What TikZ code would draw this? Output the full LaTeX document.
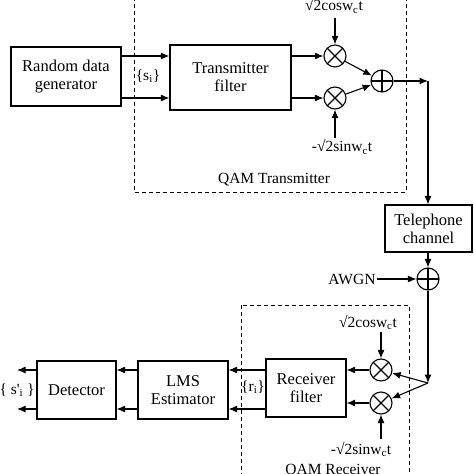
\documentclass[tikz,border=0pt]{standalone}
\usepackage{fontspec}
\setmainfont{Liberation Serif}
\usetikzlibrary{arrows.meta}
\begin{document}
\begin{tikzpicture}[x=1pt,y=-1pt,line width=1.1pt,
  font=\fontsize{15.5}{17}\selectfont,
  >={Latex[length=8.5pt,width=7pt]},
  blk/.style={draw,rectangle,align=center,inner sep=0pt,font=\fontsize{16.5}{18}\selectfont},
  mix/.style={circle,draw,minimum size=22pt,inner sep=0pt,
    path picture={\draw (path picture bounding box.north west)--(path picture bounding box.south east)
      (path picture bounding box.north east)--(path picture bounding box.south west);}},
  summ/.style={circle,draw,minimum size=22pt,inner sep=0pt,
    path picture={\draw (path picture bounding box.north)--(path picture bounding box.south)
      (path picture bounding box.west)--(path picture bounding box.east);}},
  frame/.style={draw,dashed,dash pattern=on 4pt off 3pt,line width=0.9pt},
  lbl/.style={inner sep=1pt}]
\useasboundingbox (0,0) rectangle (474,474);
\clip (0,0) rectangle (474,474);
% dashed frames
\draw[frame] (134,-10) rectangle (406,192);
\draw[frame] (241,305) rectangle (409,490);
% transmitter
\node[blk,minimum width=110pt,minimum height=59pt] (gen) at (66,76.5) {Random data\\generator};
\node[blk,minimum width=121pt,minimum height=65pt] (tf) at (230.5,77.5) {Transmitter\\filter};
\node[mix] (m1) at (335,56) {};
\node[mix] (m2) at (335,98) {};
\node[summ] (s1) at (382,81) {};
\node[lbl] (c1) at (334,6) {√2cosw\textsubscript{c}t};
\node[lbl] (sn1) at (342,147) {-√2sinw\textsubscript{c}t};
\node[lbl] (qt) at (274,180) {QAM Transmitter};
\node[lbl] (si) at (148,76) {\{s\textsubscript{i}\}};
\coordinate (corner) at (428,81);
\draw[->] (gen.east |- m1) -- (tf.west |- m1);
\draw[->] (gen.east |- m2) -- (tf.west |- m2);
\draw[->] (tf.east |- m1) -- (m1);
\draw[->] (tf.east |- m2) -- (m2);
\draw[->] (m1 |- 0,18) -- (m1);
\draw[->] (m2 |- sn1.north) -- (m2);
\draw[->] (m1) -- (s1);
\draw[->] (m2) -- (s1);
\draw[->] (s1) -- (corner);
% channel
\node[blk,minimum width=87pt,minimum height=47pt] (tel) at (428.5,228.5) {Telephone\\channel};
\draw[->] (corner) -- (tel.north -| corner);
\node[summ] (s2) at (428,279) {};
\node[lbl,anchor=east] (awgn) at (377,279) {AWGN};
\draw[->] (awgn) -- (s2);
\draw[->] (tel.south -| s2) -- (s2);
\coordinate (br) at (428,383);
\draw[->] (s2) -- (br);
% receiver
\node[mix] (rm1) at (381,370) {};
\node[mix] (rm2) at (381,403) {};
\node[lbl] (c2) at (368,322) {√2cosw\textsubscript{c}t};
\node[lbl] (sn2) at (361,449) {-√2sinw\textsubscript{c}t};
\node[lbl] (qr) at (333,471) {QAM Receiver};
\draw[->] (br) -- (rm1);
\draw[->] (br) -- (rm2);
\draw[->] (rm1 |- 0,332) -- (rm1);
\draw[->] (rm2 |- 0,439) -- (rm2);
\node[blk,minimum width=80pt,minimum height=58pt] (rf) at (306,388) {Receiver\\filter};
\node[lbl] (ri) at (253,387) {\{r\textsubscript{i}\}};
\draw[->] (rm1) -- (rf.east |- rm1);
\draw[->] (rm2) -- (rf.east |- rm2);
\coordinate (ya) at (0,370);
\coordinate (yb) at (0,409);
\node[blk,minimum width=90pt,minimum height=58pt] (lms) at (183,390) {LMS\\Estimator};
\node[blk,minimum width=79pt,minimum height=58pt] (det) at (76.5,390) {Detector};
\draw[->] (rf.west |- ya) -- (lms.east |- ya);
\draw[->] (rf.west |- yb) -- (lms.east |- yb);
\draw[->] (lms.west |- ya) -- (det.east |- ya);
\draw[->] (lms.west |- yb) -- (det.east |- yb);
\coordinate (o1) at (17,370);
\coordinate (o2) at (17,409);
\draw[->] (det.west |- ya) -- (o1);
\draw[->] (det.west |- yb) -- (o2);
\node[lbl] (so) at (17,390) {\{ s\textquotesingle\textsubscript{i} \}};
\end{tikzpicture}
\end{document}
